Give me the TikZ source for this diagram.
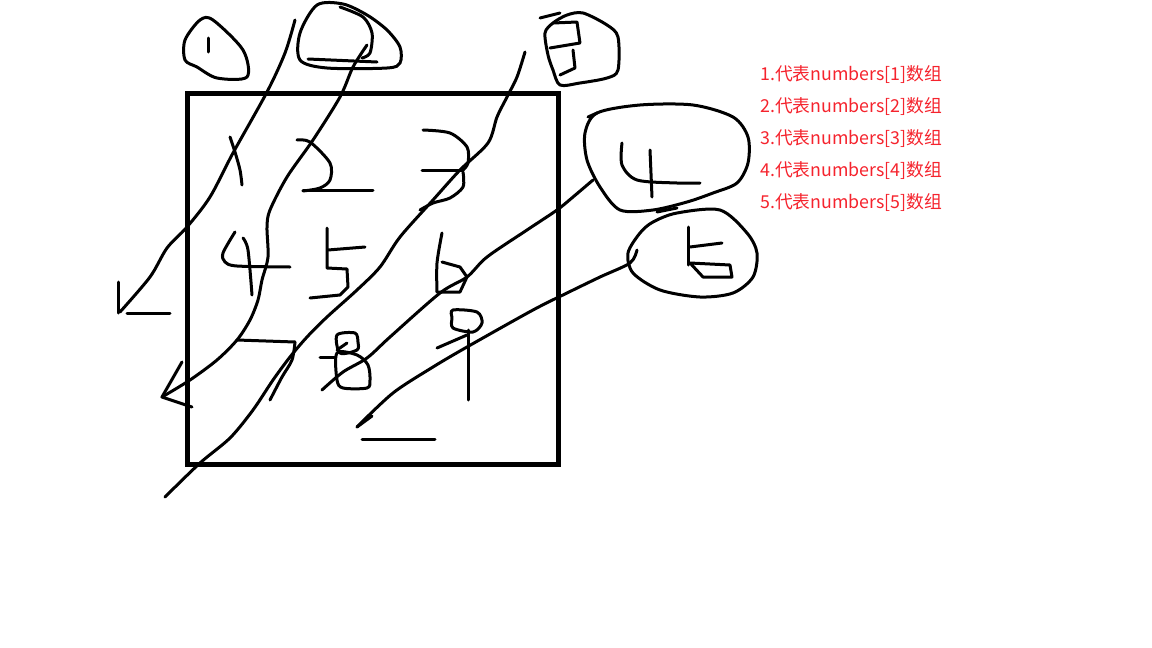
\documentclass[tikz,border=0pt]{standalone}
\usepackage{fontspec}
\newfontfamily\cjk{Noto Sans CJK SC}
\definecolor{notered}{RGB}{245,35,45}
\tikzset{
	pen/.style={line width=3pt, line cap=round, line join=round},
	note/.style={notered, font=\cjk\fontsize{17.8}{20}\selectfont, inner sep=0pt, anchor=west}
}
\begin{document}
\begin{tikzpicture}[x=1pt, y=-1pt]
		\useasboundingbox (0,0) rectangle (1152,648);
		% the grid box
		\draw[line width=5pt] (187,93) rectangle (558,464);
		% digits inside the box
		\draw[pen] plot[smooth] coordinates {(230,137) (235,152) (240,170) (242,185)};
		\draw[pen] plot[smooth] coordinates {(297,140) (310,142) (330,163) (330,180) (320,188) (303,191)};
		\draw[pen] (303,190) -- (373,190);
		\draw[pen] plot[smooth] coordinates {(423,130) (450,133) (467,147) (468,163) (463,170)};
		\draw[pen] (422,170) -- (463,170);
		\draw[pen] plot[smooth] coordinates {(463,172) (463,187) (450,198) (433,203) (420,210)};
		\draw[pen] plot[smooth] coordinates {(235,232) (223,253) (225,262) (237,266) (290,267)};
		\draw[pen] plot[smooth] coordinates {(243,238) (248,250) (252,295)};
		\draw[pen] (327,228) -- (327,268) -- (347,269) -- (348,287) -- (340,295) -- (310,298);
		\draw[pen] (328,250) -- (365,247);
		\draw[pen] plot[smooth] coordinates {(442,233) (437,263) (437,292)};
		\draw[pen] (437,292) -- (460,292) -- (467,277) -- (460,267) -- (442,262);
		\draw[pen] (237,340) -- (295,342);
		\draw[pen] plot[smooth] coordinates {(295,342) (292,360) (282,377) (270,400)};
		\draw[pen] plot[smooth cycle] coordinates {(337,335) (355,333) (358,342) (357,350) (340,353)};
		\draw[pen] plot[smooth cycle] coordinates {(337,353) (337,380) (343,388) (367,388) (370,380) (368,365) (357,355)};
		\draw[pen] (320,357) -- (335,357);
		\draw[pen] (337,350) -- (347,343);
		\draw[pen] plot[smooth cycle] coordinates {(453,310) (477,312) (482,323) (473,332) (453,328) (452,318)};
		\draw[pen] (437,348) -- (467,335);
		\draw[pen] (468,330) -- (468,400);
		\draw[pen] (362,439) -- (435,439);
		% circled labels
		\draw[pen] plot[smooth cycle] coordinates {(200,20) (213,20) (243,50) (247,77) (217,78) (197,67) (185,60) (185,40)};
		\draw[pen] (208,38) -- (208,52);
		\draw[pen] plot[smooth cycle] coordinates {(317,5) (300,33) (300,60) (327,68) (387,68) (400,63) (400,47) (387,30) (367,15) (343,4)};
		\draw[pen] plot[smooth] coordinates {(340,7) (363,17) (372,33) (370,53) (362,58)};
		\draw[pen] (308,59) -- (377,62);
		\draw[pen] (540,18) -- (560,13);
		\draw[pen] plot[smooth cycle] coordinates {(553,23) (567,15) (583,13) (607,25) (618,37) (618,70) (607,78) (580,83) (560,85) (553,70) (548,55) (545,33)};
		\draw[pen] (553,23) -- (577,22) -- (580,43) -- (550,48);
		\draw[pen] (573,50) -- (575,68) -- (560,75);
		\draw[pen] plot[smooth cycle] coordinates {(597,113) (640,105) (693,105) (733,117) (748,137) (748,163) (737,183) (713,193) (687,202) (653,210) (620,210) (600,187) (587,160) (585,133)};
		\draw[pen] (588,117) -- (597,113);
		\draw[pen] plot[smooth] coordinates {(622,143) (622,165) (637,180) (677,183) (700,183)};
		\draw[pen] (650,150) -- (652,197);
		\draw[pen] (657,212) -- (677,208);
		\draw[pen] plot[smooth cycle] coordinates {(653,222) (677,213) (720,210) (747,233) (757,253) (753,277) (733,293) (700,297) (660,290) (633,273) (628,253) (640,233)};
		\draw[pen] (688,227) -- (688,265);
		\draw[pen] (690,247) -- (722,243);
		\draw[pen] (690,263) -- (730,265) -- (732,277) -- (703,277) -- cycle;
		% strokes through the box
		\draw[pen] plot[smooth] coordinates {(295,20) (285,53) (267,92) (233,153) (210,197) (187,227) (167,248) (150,277) (120,312)};
		\draw[pen] (118,282) -- (118,313);
		\draw[pen] (127,313) -- (170,313);
		\draw[pen] plot[smooth] coordinates {(367,45) (353,67) (340,97) (313,140) (287,177) (270,210) (267,227) (268,257) (262,280) (258,300) (250,320) (237,340) (217,360) (190,380) (162,397)};
		\draw[pen] (182,362) -- (162,397) -- (192,407);
		\draw[pen] plot[smooth] coordinates {(525,52) (517,77) (507,97) (497,117) (488,143) (460,170) (433,200) (400,237) (380,267) (357,290) (327,317) (307,337) (290,357) (273,380) (253,410) (230,438) (200,463) (165,497)};
		\draw[pen] plot[smooth] coordinates {(593,180) (573,197) (557,210) (527,230) (487,257) (467,277) (440,293) (390,337) (367,358) (343,372) (322,390)};
		\draw[pen] plot[smooth] coordinates {(637,250) (630,263) (600,277) (567,293) (533,310) (467,347) (433,367) (393,393) (357,427)};
		\draw[pen] (357,427) -- (372,416);
		% legend
		\foreach \k in {1, ..., 5}
			\node[note] (note\k) at (760, 43+32*\k) {\k.代表numbers[\k]数组};
	\end{tikzpicture}
\end{document}
